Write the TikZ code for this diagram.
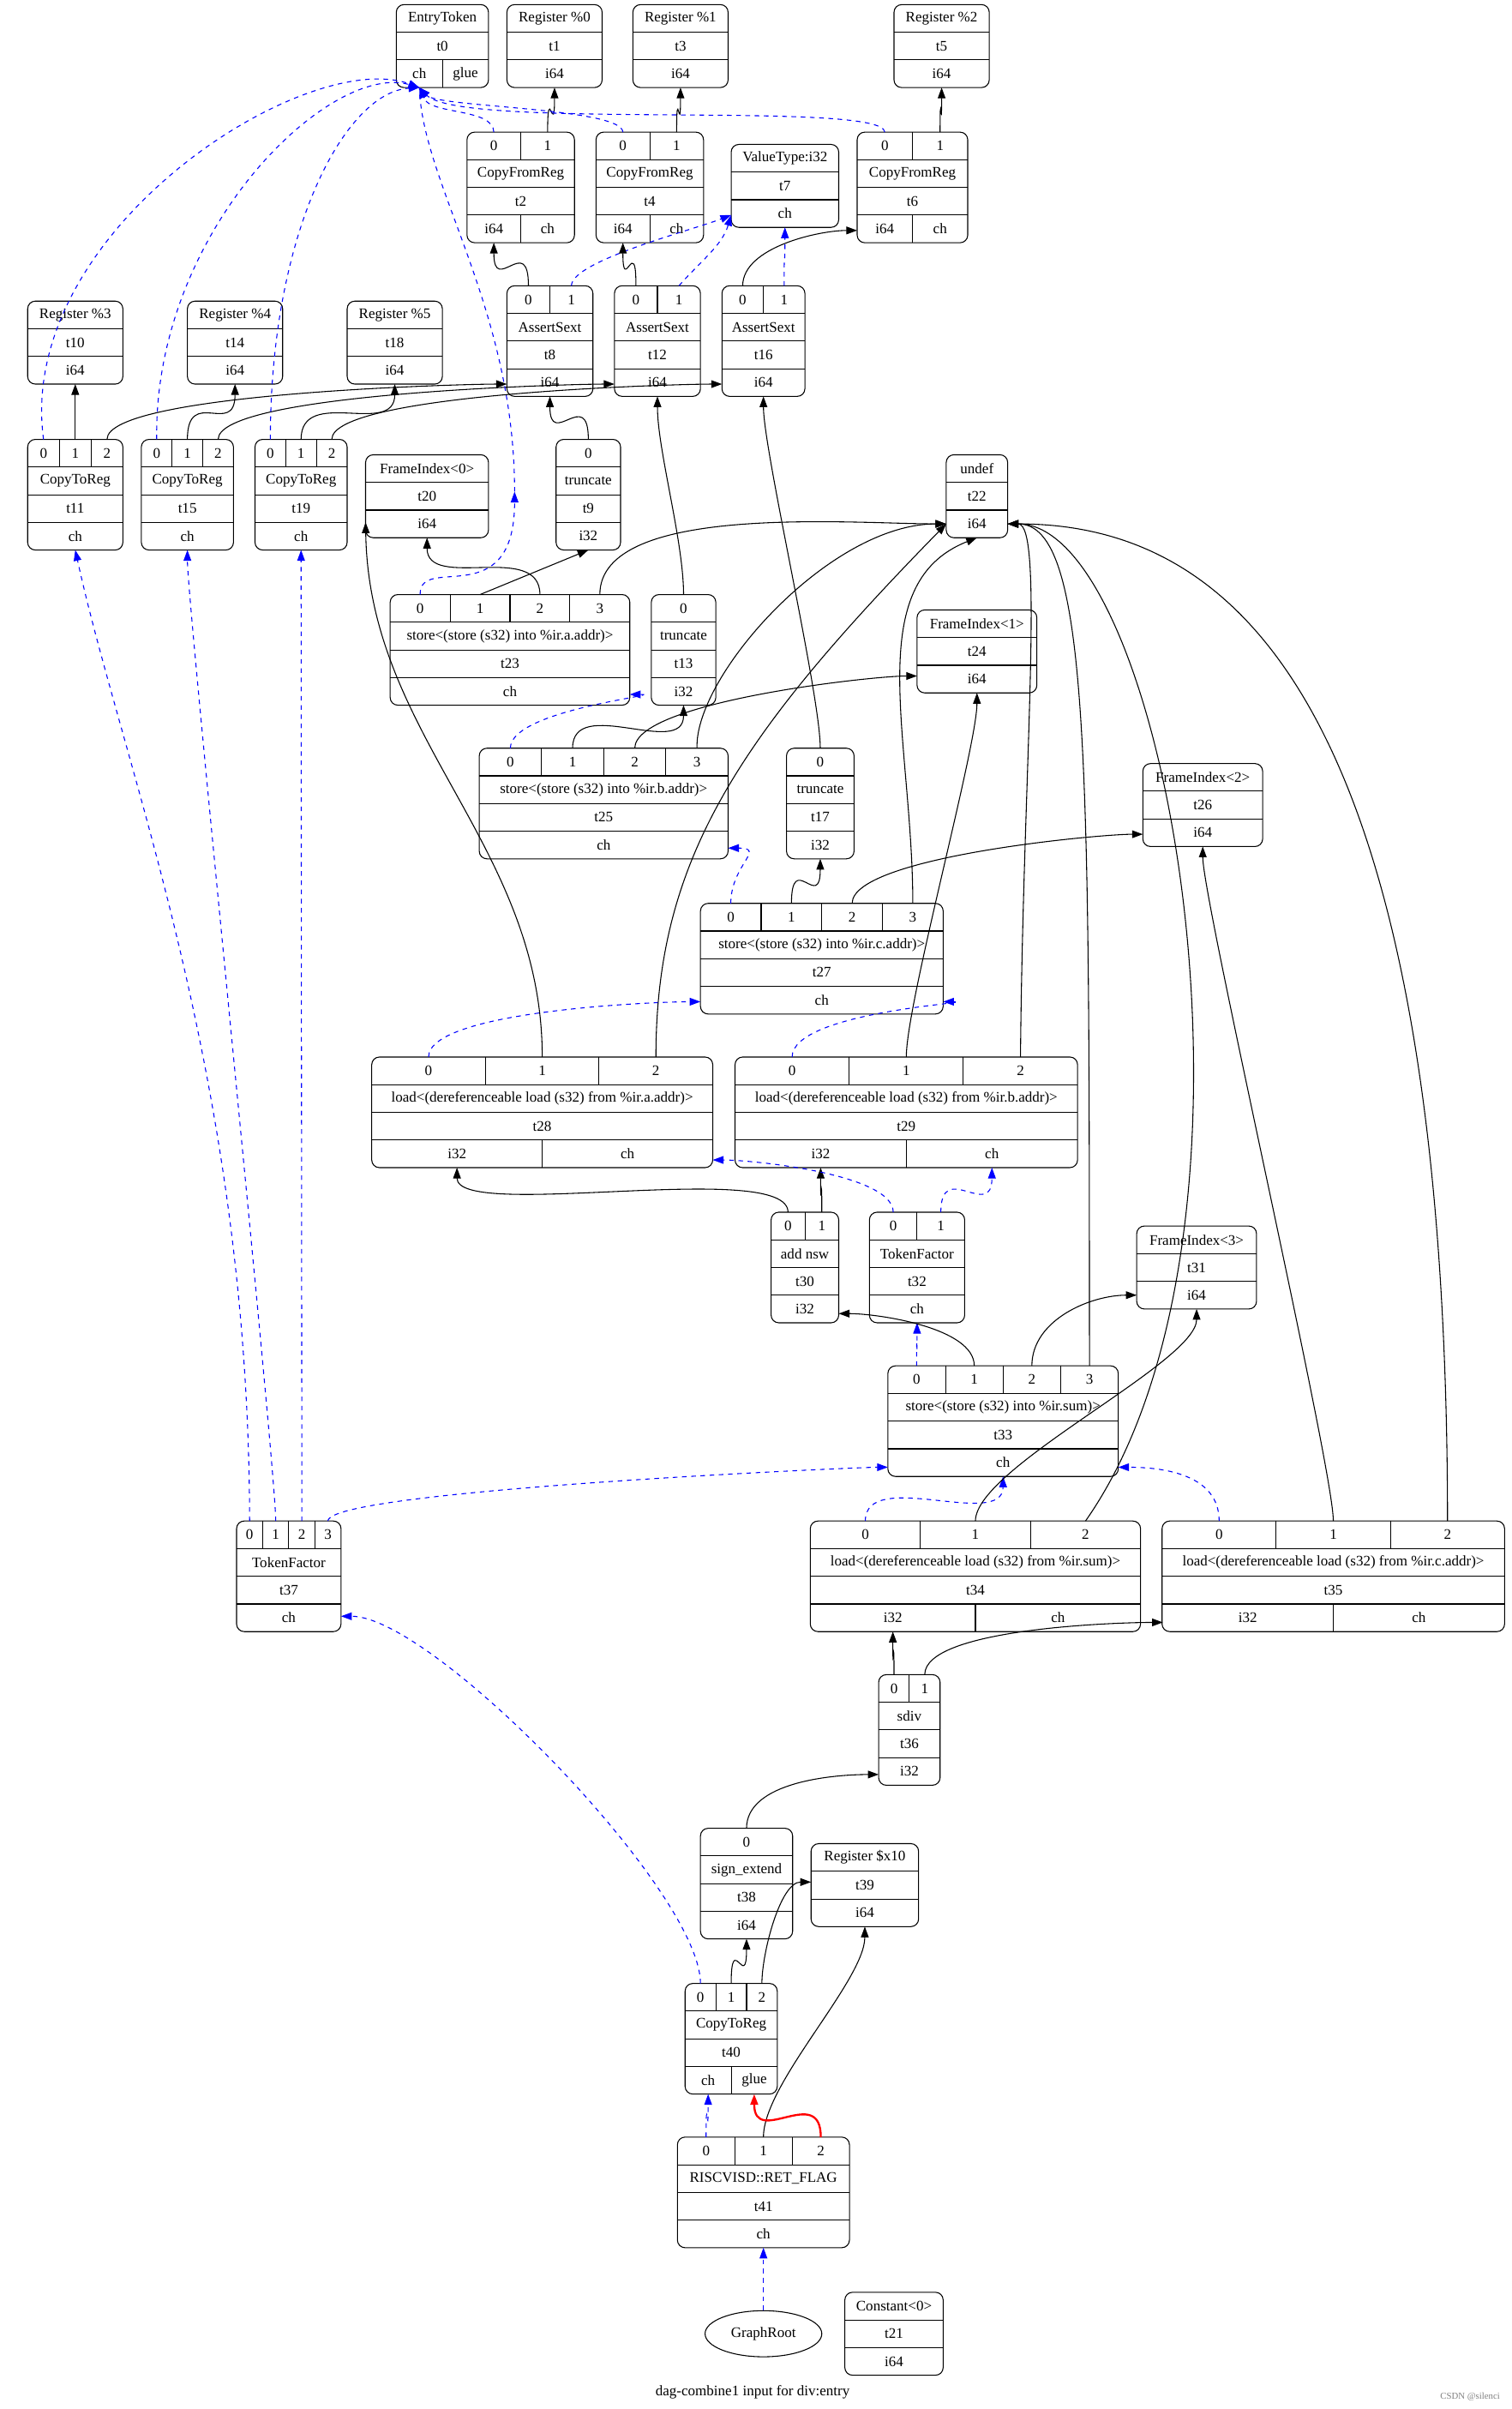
\documentclass[tikz,border=0pt]{standalone}
\usepackage{fontspec}
\setmainfont{Liberation Serif}
\usetikzlibrary{arrows.meta,shapes.geometric}
\newcommand\rec[5]{%
 \gdef\nrows{0}%
 \foreach \row in {#5}{\xdef\nrows{\the\numexpr\nrows+1\relax}}%
 \draw[rounded corners=5pt] ({#2-#4/2},#3) rectangle ({#2+#4/2},{#3+\nrows*18});
 \coordinate (#1) at (#2,{#3+\nrows*9});
 \foreach \row [count=\r] in {#5}{%
   \gdef\nf{0}%
   \foreach \f in \row {\xdef\nf{\the\numexpr\nf+1\relax}}%
   \ifnum\r>1 \draw ({#2-#4/2},{#3+(\r-1)*18}) -- ++(#4,0);\fi
   \foreach \f [count=\c] in \row {%
     \pgfmathsetmacro\cx{#2-#4/2+(\c-0.5)*#4/\nf}%
     \node[lbl] at (\cx,{#3+(\r-0.5)*18}) {\f};
     \ifnum\c>1 \draw ({#2-#4/2+(\c-1)*#4/\nf},{#3+(\r-1)*18}) -- ++(0,18);\fi
     \ifnum\r=1 \coordinate (#1-p\c) at (\cx,#3);\fi
     \ifnum\r=\nrows\relax \coordinate (#1-o\c) at (\cx,{#3+\nrows*18});\fi
   }%
 }}
\newcommand\E[3]{\draw[#1] (#2) .. controls +(0,-35) and +(0,35) .. (#3);}
\newcommand\W[4]{\draw[#1] (#2) .. controls +(0,-#4) and +(-#4,0) .. (#3);}
\newcommand\R[4]{\draw[#1] (#2) .. controls +(0,-#4) and +(#4,0) .. (#3);}
\newcommand\C[5]{\draw[#1] (#2) .. controls #3 and #4 .. (#5);}
\begin{document}
\begin{tikzpicture}[x=1pt,y=-1pt,line width=0.6pt,
  lbl/.style={font=\fontsize{9.5}{11}\selectfont,inner sep=0},
  e/.style={-{Triangle[length=7pt,width=5pt]}},
  c/.style={e,blue,dashed},
  g/.style={e,red,line width=1.3pt}]
\useasboundingbox (0,0) rectangle (984,1568);
\rec{t0}{288}{3}{60}{{EntryToken},{t0},{ch,glue}}
\rec{t1}{361}{3}{62}{{Register \%0},{t1},{i64}}
\rec{t3}{443}{3}{62}{{Register \%1},{t3},{i64}}
\rec{t5}{613}{3}{62}{{Register \%2},{t5},{i64}}
\rec{t2}{339}{86}{70}{{0,1},{CopyFromReg},{t2},{i64,ch}}
\rec{t4}{423}{86}{70}{{0,1},{CopyFromReg},{t4},{i64,ch}}
\rec{t7}{511}{94}{70}{{ValueType:i32},{t7},{ch}}
\rec{t6}{594}{86}{72}{{0,1},{CopyFromReg},{t6},{i64,ch}}
\rec{t10}{49}{196}{62}{{Register \%3},{t10},{i64}}
\rec{t14}{153}{196}{62}{{Register \%4},{t14},{i64}}
\rec{t18}{257}{196}{62}{{Register \%5},{t18},{i64}}
\rec{t8}{358}{186}{56}{{0,1},{AssertSext},{t8},{i64}}
\rec{t12}{428}{186}{56}{{0,1},{AssertSext},{t12},{i64}}
\rec{t16}{497}{186}{54}{{0,1},{AssertSext},{t16},{i64}}
\rec{t11}{49}{286}{62}{{0,1,2},{CopyToReg},{t11},{ch}}
\rec{t15}{122}{286}{60}{{0,1,2},{CopyToReg},{t15},{ch}}
\rec{t19}{196}{286}{60}{{0,1,2},{CopyToReg},{t19},{ch}}
\rec{t20}{278}{296}{80}{{FrameIndex<0>},{t20},{i64}}
\rec{t9}{383}{286}{42}{{0},{truncate},{t9},{i32}}
\rec{t22}{636}{296}{40}{{undef},{t22},{i64}}
\rec{t23}{332}{387}{156}{{0,1,2,3},{store<(store (s32) into \%ir.a.addr)>},{t23},{ch}}
\rec{t13}{445}{387}{42}{{0},{truncate},{t13},{i32}}
\rec{t24}{636}{397}{78}{{FrameIndex<1>},{t24},{i64}}
\rec{t25}{393}{487}{162}{{0,1,2,3},{store<(store (s32) into \%ir.b.addr)>},{t25},{ch}}
\rec{t17}{534}{487}{44}{{0},{truncate},{t17},{i32}}
\rec{t26}{783}{497}{78}{{FrameIndex<2>},{t26},{i64}}
\rec{t27}{535}{588}{158}{{0,1,2,3},{store<(store (s32) into \%ir.c.addr)>},{t27},{ch}}
\rec{t28}{353}{688}{222}{{0,1,2},{load<(dereferenceable load (s32) from \%ir.a.addr)>},{t28},{i32,ch}}
\rec{t29}{590}{688}{223}{{0,1,2},{load<(dereferenceable load (s32) from \%ir.b.addr)>},{t29},{i32,ch}}
\rec{t31}{779}{798}{78}{{FrameIndex<3>},{t31},{i64}}
\rec{t30}{524}{789}{44}{{0,1},{add nsw},{t30},{i32}}
\rec{t32}{597}{789}{62}{{0,1},{TokenFactor},{t32},{ch}}
\rec{t33}{653}{889}{150}{{0,1,2,3},{store<(store (s32) into \%ir.sum)>},{t33},{ch}}
\rec{t37}{188}{990}{68}{{0,1,2,3},{TokenFactor},{t37},{ch}}
\rec{t34}{635}{990}{215}{{0,1,2},{load<(dereferenceable load (s32) from \%ir.sum)>},{t34},{i32,ch}}
\rec{t35}{868}{990}{223}{{0,1,2},{load<(dereferenceable load (s32) from \%ir.c.addr)>},{t35},{i32,ch}}
\rec{t36}{592}{1090}{40}{{0,1},{sdiv},{t36},{i32}}
\rec{t38}{486}{1190}{60}{{0},{sign\_extend},{t38},{i64}}
\rec{t39}{563}{1200}{70}{{Register \$x10},{t39},{i64}}
\rec{t40}{476}{1291}{60}{{0,1,2},{CopyToReg},{t40},{ch,glue}}
\rec{t41}{497}{1391}{112}{{0,1,2},{RISCVISD::RET\_FLAG},{t41},{ch}}
\rec{t21}{582}{1492}{64}{{Constant<0>},{t21},{i64}}
\node[draw,ellipse,minimum width=76pt,minimum height=30pt,lbl] (root) at (497,1519) {GraphRoot};
\node[lbl] (cap) at (490,1557) {dag-combine1 input for div:entry};
\node[font=\fontsize{6}{7}\selectfont,text=gray,anchor=east] (wm) at (980,1560) {CSDN @silenci};
% side entry points
\coordinate (t22w) at (616,341); \coordinate (t22e) at (656,341);
\coordinate (t20w) at (238,340); \coordinate (t20e) at (318,340);
\coordinate (t24w) at (597,440); \coordinate (t26w) at (744,543);
\coordinate (t31w) at (740,843); \coordinate (t23e) at (410,452);
\coordinate (t25e) at (474,552); \coordinate (t27w) at (456,652);
\coordinate (t27e) at (614,652); \coordinate (t28e) at (464,755);
\coordinate (t33w) at (578,955); \coordinate (t33e) at (728,955);
\coordinate (t11e) at (80,350); \coordinate (t37e) at (222,1052);
\coordinate (t30e) at (546,855); \coordinate (t35w) at (757,1056);
\coordinate (t36w) at (572,1155); \coordinate (t39w) at (528,1225);
\coordinate (t8w) at (330,250); \coordinate (t12w) at (400,250);
\coordinate (t16w) at (470,250); \coordinate (t6w) at (558,150);
\coordinate (t7w) at (476,140);
% edges
\E{e}{t2-p2}{t1-o1} \C{c}{t2-p1}{(321,70)}{(280,75)}{t0-o1}
\E{e}{t4-p2}{t3-o1} \C{c}{t4-p1}{(405,70)}{(285,70)}{t0-o1}
\E{e}{t6-p2}{t5-o1} \C{c}{t6-p1}{(575,65)}{(300,85)}{t0-o1}
\E{e}{t8-p1}{t2-o1} \C{c}{t8-p2}{(372,170)}{(450,150)}{t7w}
\E{e}{t12-p1}{t4-o1} \C{c}{t12-p2}{(456,170)}{(470,160)}{t7w}
\W{e}{t16-p1}{t6w}{25} \E{c}{t16-p2}{t7-o1}
\E{e}{t9-p1}{t8-o1} \E{e}{t13-p1}{t12-o1} \E{e}{t17-p1}{t16-o1}
\C{c}{t11-p1}{(10,150)}{(200,30)}{t0-o1} \E{e}{t11-p2}{t10-o1} \W{e}{t11-p3}{t8w}{30}
\C{c}{t15-p1}{(100,150)}{(215,40)}{t0-o1} \E{e}{t15-p2}{t14-o1} \W{e}{t15-p3}{t12w}{30}
\C{c}{t19-p1}{(176,150)}{(225,60)}{t0-o1} \E{e}{t19-p2}{t18-o1} \W{e}{t19-p3}{t16w}{30}
\C{c}{t23-p1}{(273,360)}{(335,400)}{335,320} \draw[c,-] (335,320) .. controls (335,200) and (275,120) .. (t0-o1);
\R{e}{t23-p2}{t9-o1}{0} \E{e}{t23-p3}{t20-o1} \W{e}{t23-p4}{t22w}{60}
\R{c}{t25-p1}{t23e}{25} \E{e}{t25-p2}{t13-o1} \W{e}{t25-p3}{t24w}{30} \C{e}{t25-p4}{(452,440)}{(540,341)}{t22w}
\R{c}{t27-p1}{t25e}{25} \E{e}{t27-p2}{t17-o1} \W{e}{t27-p3}{t26w}{30} \C{e}{t27-p4}{(594,480)}{(560,380)}{t22-o1}
\W{c}{t28-p1}{t27w}{30} \C{e}{t28-p2}{(353,550)}{(240,480)}{t20w} \C{e}{t28-p3}{(427,560)}{(480,480)}{t22w}
\R{c}{t29-p1}{t27e}{30} \E{e}{t29-p2}{t24-o1} \C{e}{t29-p3}{(666,500)}{(680,341)}{t22e}
\E{e}{t30-p1}{t28-o1} \E{e}{t30-p2}{t29-o1}
\R{c}{t32-p1}{t28e}{25} \E{c}{t32-p2}{t29-o2}
\E{c}{t33-p1}{t32-o1} \R{e}{t33-p2}{t30e}{25} \W{e}{t33-p3}{t31w}{30} \C{e}{t33-p4}{(709,500)}{(710,341)}{t22e}
\E{c}{t34-p1}{t33-o1} \E{e}{t34-p2}{t31-o1} \C{e}{t34-p3}{(840,800)}{(760,341)}{t22e}
\R{c}{t35-p1}{t33e}{30} \E{e}{t35-p2}{t26-o1} \C{e}{t35-p3}{(942,450)}{(800,341)}{t22e}
\E{e}{t36-p1}{t34-o1} \W{e}{t36-p2}{t35w}{30}
\W{e}{t38-p1}{t36w}{30}
\C{c}{t37-p1}{(162,700)}{(80,500)}{t11-o1} \E{c}{t37-p2}{t15-o1} \E{c}{t37-p3}{t19-o1} \W{c}{t37-p4}{t33w}{20}
\R{c}{t40-p1}{t37e}{60} \E{e}{t40-p2}{t38-o1} \W{e}{t40-p3}{t39w}{20}
\E{c}{t41-p1}{t40-o1} \E{e}{t41-p2}{t39-o1} \E{g}{t41-p3}{t40-o2}
\E{c}{root.north}{t41-o1}
\end{tikzpicture}
\end{document}
